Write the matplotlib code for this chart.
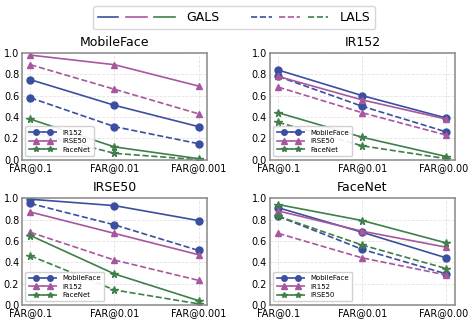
import matplotlib
matplotlib.use('Agg')
import matplotlib.pyplot as plt
from matplotlib.legend_handler import HandlerTuple
from matplotlib.lines import Line2D

# данные: порог FAR и успешность атак по целевым моделям
far_labels = ['FAR@0.1', 'FAR@0.01', 'FAR@0.001']

titles = ['MobileFace', 'IR152', 'IRSE50', 'FaceNet']
sources = [
    ['IR152', 'IRSE50', 'FaceNet'],
    ['MobileFace', 'IRSE50', 'FaceNet'],
    ['MobileFace', 'IR152', 'FaceNet'],
    ['MobileFace', 'IR152', 'IRSE50'],
]

gals_mobileface = [[0.75, 0.51, 0.31], [0.98, 0.89, 0.69], [0.38, 0.12, 0.01]]
lals_mobileface = [[0.58, 0.31, 0.15], [0.89, 0.66, 0.43], [0.26, 0.06, 0.00]]

gals_ir152 = [[0.84, 0.60, 0.39], [0.78, 0.56, 0.38], [0.44, 0.21, 0.03]]
lals_ir152 = [[0.78, 0.50, 0.26], [0.68, 0.44, 0.23], [0.35, 0.13, 0.01]]

gals_irse50 = [[0.99, 0.93, 0.79], [0.87, 0.67, 0.47], [0.65, 0.29, 0.04]]
lals_irse50 = [[0.95, 0.75, 0.51], [0.68, 0.42, 0.23], [0.46, 0.14, 0.01]]

gals_facenet = [[0.91, 0.68, 0.44], [0.88, 0.69, 0.54], [0.94, 0.79, 0.58]]
lals_facenet = [[0.83, 0.52, 0.29], [0.67, 0.44, 0.28], [0.83, 0.56, 0.34]]

gals = [gals_mobileface, gals_ir152, gals_irse50, gals_facenet]
lals = [lals_mobileface, lals_ir152, lals_irse50, lals_facenet]

colors = ['#3a4fa0', '#a8579f', '#3f7f4a']
markers = ['o', '^', '*']
msizes = [5, 5, 5.5]

fig, axes = plt.subplots(2, 2, figsize=(4.68, 3.23), dpi=100)
plt.subplots_adjust(left=0.047, right=0.972, top=0.836, bottom=0.056,
                    wspace=0.34, hspace=0.36)

x = list(range(len(far_labels)))
for k, ax in enumerate(axes.flat):
    handles = []
    for i in range(3):
        l1, = ax.plot(x, gals[k][i], '-', color=colors[i], marker=markers[i],
                      ms=msizes[i], lw=1.2)
        l2, = ax.plot(x, lals[k][i], '--', color=colors[i], marker=markers[i],
                      ms=msizes[i], lw=1.2)
        handles.append((l1, l2))
    ax.set_title(titles[k], fontsize=9, pad=5)
    ax.set_ylim(0, 1.0)
    ax.set_xlim(-0.1, 2.1)
    ax.set_xticks(x)
    ax.set_xticklabels(far_labels, fontsize=7)
    ax.set_yticks([0, 0.2, 0.4, 0.6, 0.8, 1.0])
    ax.tick_params(axis='y', labelsize=7, length=0, pad=2)
    ax.tick_params(axis='x', length=0, pad=2.5)
    ax.grid(True, linestyle='--', color='#e3e3e3', lw=0.6)
    for s in ax.spines.values():
        s.set_color('#888888')
        s.set_linewidth(1.1)
    ax.legend(handles, sources[k], handler_map={tuple: HandlerTuple(ndivide=None, pad=0)},
              loc='lower left', fontsize=5, numpoints=1, markerscale=0.8,
              handlelength=4.0, borderpad=0.5, labelspacing=0.35,
              handletextpad=0.8, framealpha=0.9, edgecolor='#cccccc')

# общая легенда сверху
solid = tuple(Line2D([], [], color=c, lw=1.2, ls='-') for c in colors)
dashed = tuple(Line2D([], [], color=c, lw=1.2, ls='--') for c in colors)
fig.legend([solid, dashed], ['GALS', 'LALS'],
           handler_map={tuple: HandlerTuple(ndivide=None, pad=0.6)},
           loc='upper center', bbox_to_anchor=(0.5, 1.0), ncol=2, fontsize=9,
           handlelength=6.2, columnspacing=2.5, handletextpad=0.9,
           frameon=True, edgecolor='#cccccc', borderpad=0.4)

plt.savefig('out.png', dpi=100)
